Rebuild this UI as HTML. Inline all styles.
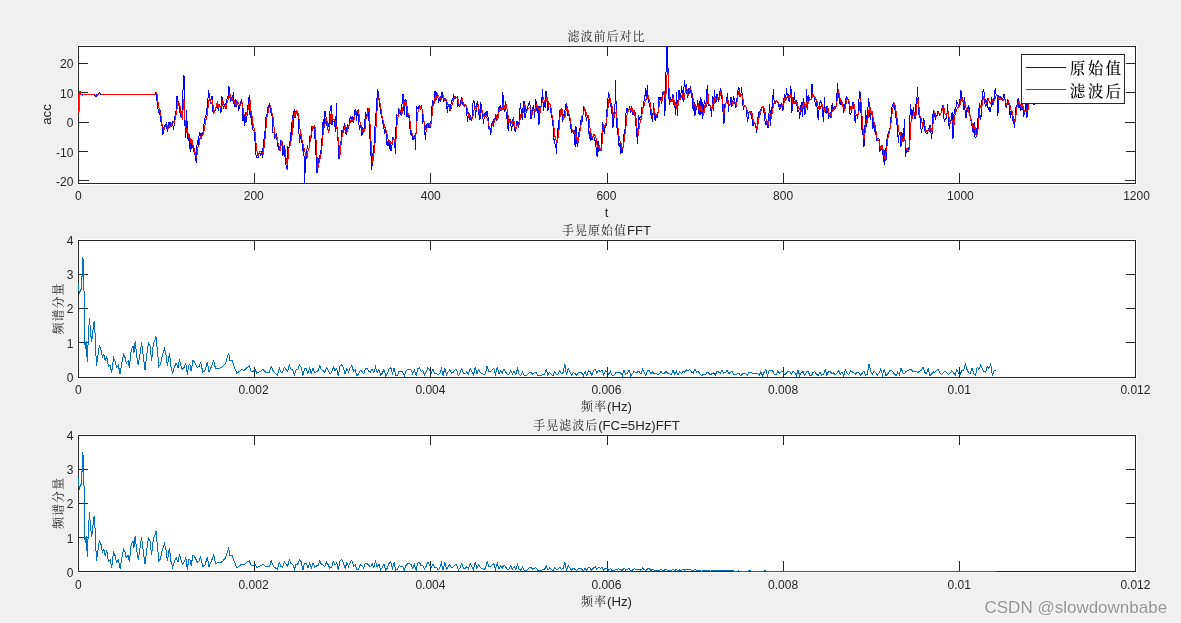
<!DOCTYPE html><html><head><meta charset="utf-8"><style>html,body{margin:0;padding:0;background:#f0f0f0;}svg{display:block}.tk{font-family:"Liberation Sans",Arial,sans-serif;font-size:12px;fill:#262626}.lb{font-family:"Liberation Sans","Noto Sans CJK SC",sans-serif;font-size:13.2px;fill:#262626}.tt{font-family:"Liberation Sans","Noto Sans CJK SC",sans-serif;font-size:13.2px;fill:#262626}.lg{font-family:"Liberation Serif","Noto Serif CJK SC",serif;font-size:15.5px;fill:#000;letter-spacing:2.4px;font-weight:500}.cj{font-family:"Liberation Serif","Noto Serif CJK SC",serif;font-size:12px;letter-spacing:1px}.wm{font-family:"Liberation Sans",Arial,sans-serif;font-size:17px;fill:#959595}</style></head><body>
<svg width="1181" height="623" viewBox="0 0 1181 623">
<rect x="0" y="0" width="1181" height="623" fill="#f0f0f0"/>
<rect x="77" y="45" width="1060" height="140" fill="#fff"/>
<rect x="77" y="239" width="1060" height="140" fill="#fff"/>
<rect x="77" y="434" width="1060" height="139" fill="#fff"/>
<g fill="#262626">
<rect x="78" y="46" width="1058" height="1"/>
<rect x="78" y="183" width="1058" height="1"/>
<rect x="78" y="46" width="1" height="138"/>
<rect x="1135" y="46" width="1" height="138"/>
<rect x="254" y="47" width="1" height="9"/>
<rect x="254" y="173" width="1" height="10"/>
<rect x="430" y="47" width="1" height="9"/>
<rect x="430" y="173" width="1" height="10"/>
<rect x="607" y="47" width="1" height="9"/>
<rect x="607" y="173" width="1" height="10"/>
<rect x="783" y="47" width="1" height="9"/>
<rect x="783" y="173" width="1" height="10"/>
<rect x="959" y="47" width="1" height="9"/>
<rect x="959" y="173" width="1" height="10"/>
<rect x="79" y="63" width="9" height="1"/>
<rect x="1126" y="63" width="9" height="1"/>
<rect x="79" y="92" width="9" height="1"/>
<rect x="1126" y="92" width="9" height="1"/>
<rect x="79" y="122" width="10" height="1"/>
<rect x="1125" y="122" width="10" height="1"/>
<rect x="79" y="151" width="9" height="1"/>
<rect x="1126" y="151" width="9" height="1"/>
<rect x="79" y="180" width="10" height="1"/>
<rect x="1125" y="180" width="10" height="1"/>
</g>
<g fill="#262626">
<rect x="78" y="240" width="1058" height="1"/>
<rect x="78" y="377" width="1058" height="1"/>
<rect x="78" y="240" width="1" height="138"/>
<rect x="1135" y="240" width="1" height="138"/>
<rect x="254" y="241" width="1" height="9"/>
<rect x="254" y="367" width="1" height="10"/>
<rect x="430" y="241" width="1" height="9"/>
<rect x="430" y="367" width="1" height="10"/>
<rect x="607" y="241" width="1" height="9"/>
<rect x="607" y="367" width="1" height="10"/>
<rect x="783" y="241" width="1" height="9"/>
<rect x="783" y="367" width="1" height="10"/>
<rect x="959" y="241" width="1" height="9"/>
<rect x="959" y="367" width="1" height="10"/>
<rect x="79" y="274" width="9" height="1"/>
<rect x="1126" y="274" width="9" height="1"/>
<rect x="79" y="308" width="9" height="1"/>
<rect x="1126" y="308" width="9" height="1"/>
<rect x="79" y="342" width="9" height="1"/>
<rect x="1126" y="342" width="9" height="1"/>
</g>
<g fill="#262626">
<rect x="78" y="435" width="1058" height="1"/>
<rect x="78" y="571" width="1058" height="1"/>
<rect x="78" y="435" width="1" height="137"/>
<rect x="1135" y="435" width="1" height="137"/>
<rect x="254" y="436" width="1" height="9"/>
<rect x="254" y="561" width="1" height="10"/>
<rect x="430" y="436" width="1" height="9"/>
<rect x="430" y="561" width="1" height="10"/>
<rect x="607" y="436" width="1" height="9"/>
<rect x="607" y="561" width="1" height="10"/>
<rect x="783" y="436" width="1" height="9"/>
<rect x="783" y="561" width="1" height="10"/>
<rect x="959" y="436" width="1" height="9"/>
<rect x="959" y="561" width="1" height="10"/>
<rect x="79" y="469" width="9" height="1"/>
<rect x="1126" y="469" width="9" height="1"/>
<rect x="79" y="503" width="9" height="1"/>
<rect x="1126" y="503" width="9" height="1"/>
<rect x="79" y="537" width="9" height="1"/>
<rect x="1126" y="537" width="9" height="1"/>
</g>
<polyline fill="none" stroke="#0000ff" stroke-width="1" shape-rendering="crispEdges" points="78.3,94.5 79.2,94.3 80.1,94.5 80.9,94.5 81.8,94.4 82.7,94.5 83.6,94.3 84.5,94.4 85.3,94.4 86.2,94.4 87.1,94.4 88.0,94.4 88.9,94.4 89.8,94.4 90.6,94.4 91.5,94.4 92.4,94.4 93.3,94.5 94.2,95.2 95.0,95.4 95.9,96.8 96.8,94.7 97.7,94.2 98.6,93.8 99.4,93.0 100.3,94.4 101.2,94.4 102.1,94.4 103.0,94.4 103.8,94.4 104.7,94.4 105.6,94.4 106.5,94.4 107.4,94.4 108.2,94.4 109.1,94.4 110.0,94.4 110.9,94.4 111.8,94.4 112.7,94.4 113.5,94.4 114.4,94.4 115.3,94.4 116.2,94.4 117.1,94.4 117.9,94.4 118.8,94.4 119.7,94.4 120.6,94.4 121.5,94.4 122.3,94.4 123.2,94.4 124.1,94.4 125.0,94.4 125.9,94.4 126.7,94.4 127.6,94.4 128.5,94.4 129.4,94.4 130.3,94.4 131.2,94.4 132.0,94.4 132.9,94.4 133.8,94.4 134.7,94.4 135.6,94.4 136.4,94.4 137.3,94.4 138.2,94.4 139.1,94.4 140.0,94.4 140.8,94.4 141.7,94.4 142.6,94.4 143.5,94.4 144.4,94.4 145.2,94.4 146.1,94.4 147.0,94.4 147.9,94.4 148.8,94.4 149.6,94.4 150.5,94.4 151.4,94.4 152.3,94.4 153.2,94.4 154.1,94.4 154.9,94.4 155.8,91.8 156.7,98.4 157.6,106.1 158.5,111.5 159.3,114.0 160.2,109.6 161.1,123.2 162.0,125.9 162.9,135.1 163.7,130.2 164.6,125.5 165.5,124.7 166.4,123.0 167.3,132.0 168.1,128.5 169.0,122.4 169.9,128.0 170.8,121.9 171.7,127.4 172.5,120.7 173.4,130.0 174.3,124.9 175.2,113.1 176.1,110.4 177.0,96.0 177.8,106.6 178.7,100.9 179.6,110.4 180.5,116.4 181.4,117.1 182.2,108.6 183.1,88.0 184.0,75.0 184.9,124.2 185.8,138.4 186.6,110.0 187.5,134.9 188.4,141.4 189.3,134.2 190.2,152.0 191.0,140.8 191.9,148.0 192.8,145.8 193.7,150.7 194.6,153.1 195.5,156.5 196.3,163.0 197.2,140.0 198.1,145.9 199.0,136.5 199.9,132.0 200.7,138.9 201.6,133.0 202.5,135.7 203.4,129.0 204.3,122.2 205.1,117.2 206.0,115.5 206.9,109.7 207.8,100.7 208.7,90.0 209.5,97.2 210.4,104.1 211.3,98.7 212.2,95.6 213.1,113.9 213.9,112.1 214.8,110.9 215.7,109.9 216.6,103.5 217.5,107.8 218.4,109.5 219.2,104.2 220.1,107.3 221.0,112.6 221.9,96.2 222.8,104.7 223.6,109.0 224.5,104.1 225.4,109.3 226.3,100.4 227.2,98.7 228.0,96.0 228.9,86.1 229.8,96.8 230.7,102.4 231.6,96.8 232.4,101.4 233.3,92.3 234.2,106.8 235.1,99.1 236.0,106.9 236.9,100.9 237.7,102.5 238.6,109.6 239.5,107.6 240.4,105.1 241.3,99.4 242.1,103.8 243.0,121.4 243.9,113.1 244.8,125.8 245.7,112.3 246.5,121.7 247.4,111.2 248.3,101.6 249.2,95.3 250.1,117.6 250.9,109.1 251.8,123.9 252.7,129.3 253.6,130.5 254.5,130.1 255.3,147.0 256.2,156.6 257.1,157.7 258.0,158.1 258.9,153.2 259.8,151.9 260.6,154.8 261.5,151.2 262.4,157.7 263.3,143.3 264.2,138.1 265.0,130.7 265.9,117.1 266.8,116.0 267.7,108.0 268.6,106.6 269.4,103.2 270.3,108.1 271.2,114.6 272.1,116.4 273.0,132.9 273.8,132.1 274.7,137.6 275.6,135.6 276.5,132.9 277.4,146.1 278.2,144.5 279.1,150.6 280.0,147.7 280.9,141.1 281.8,141.4 282.7,155.8 283.5,154.1 284.4,145.5 285.3,162.1 286.2,165.9 287.1,169.5 287.9,147.2 288.8,148.2 289.7,144.5 290.6,133.4 291.5,135.1 292.3,114.7 293.2,127.5 294.1,109.1 295.0,117.9 295.9,110.6 296.7,114.2 297.6,111.1 298.5,121.3 299.4,142.9 300.3,134.7 301.2,140.6 302.0,142.7 302.9,149.8 303.8,147.8 304.7,183.0 305.6,154.5 306.4,158.7 307.3,145.2 308.2,148.3 309.1,147.9 310.0,135.6 310.8,141.4 311.7,125.6 312.6,130.7 313.5,126.6 314.4,125.7 315.2,143.2 316.1,155.8 317.0,173.0 317.9,165.2 318.8,158.8 319.6,157.6 320.5,151.7 321.4,149.0 322.3,132.8 323.2,118.8 324.1,127.9 324.9,110.6 325.8,115.0 326.7,123.4 327.6,129.5 328.5,123.6 329.3,123.3 330.2,107.4 331.1,106.2 332.0,124.7 332.9,120.8 333.7,121.4 334.6,122.0 335.5,132.3 336.4,103.2 337.3,137.9 338.1,140.9 339.0,159.4 339.9,144.9 340.8,143.7 341.7,130.1 342.6,130.1 343.4,132.9 344.3,122.7 345.2,132.3 346.1,134.4 347.0,127.1 347.8,124.4 348.7,129.2 349.6,118.6 350.5,117.2 351.4,119.9 352.2,115.6 353.1,123.1 354.0,117.0 354.9,110.5 355.8,109.5 356.6,120.7 357.5,109.7 358.4,113.1 359.3,130.1 360.2,125.9 361.0,127.8 361.9,135.9 362.8,126.7 363.7,133.4 364.6,124.7 365.5,112.5 366.3,118.3 367.2,112.3 368.1,107.9 369.0,121.3 369.9,136.9 370.7,147.5 371.6,170.2 372.5,161.5 373.4,146.0 374.3,144.0 375.1,123.8 376.0,112.9 376.9,98.9 377.8,89.2 378.7,98.9 379.5,101.9 380.4,110.8 381.3,114.9 382.2,118.7 383.1,124.3 383.9,127.9 384.8,134.0 385.7,127.5 386.6,143.9 387.5,144.9 388.4,138.8 389.2,148.7 390.1,141.0 391.0,151.3 391.9,146.2 392.8,138.5 393.6,140.0 394.5,140.4 395.4,153.5 396.3,114.3 397.2,116.1 398.0,115.7 398.9,109.2 399.8,109.6 400.7,114.2 401.6,114.7 402.4,94.1 403.3,94.5 404.2,114.7 405.1,99.0 406.0,100.0 406.9,117.4 407.7,114.0 408.6,115.2 409.5,120.4 410.4,135.3 411.3,132.5 412.1,136.4 413.0,139.7 413.9,137.7 414.8,135.1 415.7,150.2 416.5,106.9 417.4,107.6 418.3,108.7 419.2,105.8 420.1,109.7 420.9,109.3 421.8,104.9 422.7,122.4 423.6,120.6 424.5,124.6 425.3,140.2 426.2,129.8 427.1,123.6 428.0,123.4 428.9,127.8 429.8,126.5 430.6,127.4 431.5,114.1 432.4,99.8 433.3,103.9 434.2,99.8 435.0,91.2 435.9,101.3 436.8,92.4 437.7,96.5 438.6,101.4 439.4,99.9 440.3,102.1 441.2,94.4 442.1,92.2 443.0,98.0 443.8,102.1 444.7,98.2 445.6,98.4 446.5,103.8 447.4,113.0 448.2,104.2 449.1,107.1 450.0,110.9 450.9,104.3 451.8,100.2 452.7,100.4 453.5,93.6 454.4,99.2 455.3,96.6 456.2,97.8 457.1,97.0 457.9,105.8 458.8,104.6 459.7,106.1 460.6,103.2 461.5,96.6 462.3,104.0 463.2,105.4 464.1,106.3 465.0,104.0 465.9,104.9 466.7,113.1 467.6,121.9 468.5,112.4 469.4,118.9 470.3,116.7 471.2,120.6 472.0,118.8 472.9,103.7 473.8,100.0 474.7,104.7 475.6,118.4 476.4,106.6 477.3,100.8 478.2,108.1 479.1,115.1 480.0,119.7 480.8,101.8 481.7,111.7 482.6,115.0 483.5,123.7 484.4,115.2 485.2,113.1 486.1,117.3 487.0,110.6 487.9,115.7 488.8,129.3 489.6,126.7 490.5,134.7 491.4,123.4 492.3,122.4 493.2,127.0 494.1,117.9 494.9,120.5 495.8,114.0 496.7,120.3 497.6,119.1 498.5,107.5 499.3,111.4 500.2,104.7 501.1,111.2 502.0,110.0 502.9,92.5 503.7,109.3 504.6,111.9 505.5,101.3 506.4,118.9 507.3,114.4 508.1,130.8 509.0,120.9 509.9,118.9 510.8,124.0 511.7,130.8 512.6,119.2 513.4,118.3 514.3,129.1 515.2,131.2 516.1,126.3 517.0,121.4 517.8,125.1 518.7,127.7 519.6,112.2 520.5,103.0 521.4,112.7 522.2,119.7 523.1,107.3 524.0,100.6 524.9,118.1 525.8,114.4 526.6,110.9 527.5,107.8 528.4,104.5 529.3,102.2 530.2,105.5 531.0,118.6 531.9,111.6 532.8,107.9 533.7,106.1 534.6,117.6 535.5,99.0 536.3,101.8 537.2,113.3 538.1,105.8 539.0,124.7 539.9,107.1 540.7,107.5 541.6,104.8 542.5,88.6 543.4,111.1 544.3,99.6 545.1,107.8 546.0,91.5 546.9,95.1 547.8,110.8 548.7,105.4 549.5,103.7 550.4,104.6 551.3,117.2 552.2,118.5 553.1,126.5 554.0,139.5 554.8,143.8 555.7,144.8 556.6,153.8 557.5,127.9 558.4,137.7 559.2,115.2 560.1,109.4 561.0,109.7 561.9,114.3 562.8,121.9 563.6,114.6 564.5,117.3 565.4,105.0 566.3,104.2 567.2,110.7 568.0,116.4 568.9,112.8 569.8,119.3 570.7,127.3 571.6,132.9 572.4,129.0 573.3,133.5 574.2,130.5 575.1,146.9 576.0,126.3 576.9,143.4 577.7,146.9 578.6,135.6 579.5,128.8 580.4,129.4 581.3,115.7 582.1,121.7 583.0,114.9 583.9,107.0 584.8,109.1 585.7,115.0 586.5,119.1 587.4,116.6 588.3,117.1 589.2,139.0 590.1,130.4 590.9,140.6 591.8,137.6 592.7,138.9 593.6,134.0 594.5,139.8 595.3,140.8 596.2,148.4 597.1,156.9 598.0,140.9 598.9,152.0 599.8,147.7 600.6,151.3 601.5,146.7 602.4,121.9 603.3,126.0 604.2,133.8 605.0,126.5 605.9,128.1 606.8,111.9 607.7,100.9 608.6,92.3 609.4,95.3 610.3,106.5 611.2,103.4 612.1,115.5 613.0,127.5 613.8,111.9 614.7,117.5 615.6,80.4 616.5,126.3 617.4,129.2 618.3,137.3 619.1,147.3 620.0,143.1 620.9,153.5 621.8,147.4 622.7,153.0 623.5,138.2 624.4,131.2 625.3,127.5 626.2,109.5 627.1,108.3 627.9,111.7 628.8,110.2 629.7,106.5 630.6,112.6 631.5,105.6 632.3,115.2 633.2,110.1 634.1,115.6 635.0,112.3 635.9,125.1 636.7,132.8 637.6,143.9 638.5,114.8 639.4,119.2 640.3,117.7 641.2,115.8 642.0,107.6 642.9,109.2 643.8,101.1 644.7,99.4 645.6,88.1 646.4,100.4 647.3,85.1 648.2,99.0 649.1,103.7 650.0,107.2 650.8,114.2 651.7,118.0 652.6,121.5 653.5,103.3 654.4,117.5 655.2,121.1 656.1,114.4 657.0,117.8 657.9,114.6 658.8,96.6 659.6,99.0 660.5,97.5 661.4,103.5 662.3,94.2 663.2,91.6 664.1,93.2 664.9,115.8 665.8,79.4 666.7,46.0 667.6,49.0 668.5,89.8 669.3,104.9 670.2,97.3 671.1,102.1 672.0,99.5 672.9,94.1 673.7,104.1 674.6,103.0 675.5,114.7 676.4,91.9 677.3,116.3 678.1,97.7 679.0,89.7 679.9,100.3 680.8,95.3 681.7,86.0 682.6,98.1 683.4,101.5 684.3,80.5 685.2,86.7 686.1,84.8 687.0,94.4 687.8,98.3 688.7,88.1 689.6,90.2 690.5,86.0 691.4,97.9 692.2,93.5 693.1,110.9 694.0,101.8 694.9,116.0 695.8,106.6 696.6,110.0 697.5,100.5 698.4,111.9 699.3,115.4 700.2,97.4 701.0,114.7 701.9,99.1 702.8,118.5 703.7,106.4 704.6,100.5 705.5,107.4 706.3,107.0 707.2,84.8 708.1,105.8 709.0,105.9 709.9,104.3 710.7,106.8 711.6,117.3 712.5,96.1 713.4,110.5 714.3,90.5 715.1,99.6 716.0,102.5 716.9,94.1 717.8,96.8 718.7,102.2 719.5,94.6 720.4,88.1 721.3,94.9 722.2,100.2 723.1,113.4 724.0,123.6 724.8,104.7 725.7,104.4 726.6,99.4 727.5,93.4 728.4,112.2 729.2,104.1 730.1,104.6 731.0,97.3 731.9,107.2 732.8,100.9 733.6,96.1 734.5,100.6 735.4,107.2 736.3,106.6 737.2,95.5 738.0,90.1 738.9,86.9 739.8,96.2 740.7,95.5 741.6,87.3 742.4,97.9 743.3,109.7 744.2,105.3 745.1,106.2 746.0,107.2 746.9,116.0 747.7,121.6 748.6,112.7 749.5,112.1 750.4,113.8 751.3,111.3 752.1,119.8 753.0,126.0 753.9,122.9 754.8,123.5 755.7,125.9 756.5,132.5 757.4,120.8 758.3,116.1 759.2,111.3 760.1,115.3 760.9,109.9 761.8,107.0 762.7,107.0 763.6,110.0 764.5,115.4 765.4,125.3 766.2,119.3 767.1,125.9 768.0,128.0 768.9,114.1 769.8,104.3 770.6,126.1 771.5,108.6 772.4,106.6 773.3,89.2 774.2,102.7 775.0,103.8 775.9,101.6 776.8,100.7 777.7,102.7 778.6,103.8 779.4,110.0 780.3,106.9 781.2,103.5 782.1,106.5 783.0,110.4 783.8,98.9 784.7,94.3 785.6,101.2 786.5,88.0 787.4,97.5 788.3,93.8 789.1,102.3 790.0,95.4 790.9,85.9 791.8,113.4 792.7,104.0 793.5,103.3 794.4,91.6 795.3,103.4 796.2,100.1 797.1,106.3 797.9,111.1 798.8,110.2 799.7,119.2 800.6,107.1 801.5,102.1 802.3,117.4 803.2,97.8 804.1,104.4 805.0,114.5 805.9,106.4 806.7,89.1 807.6,109.9 808.5,96.0 809.4,97.7 810.3,100.0 811.2,99.0 812.0,84.2 812.9,94.5 813.8,95.8 814.7,100.0 815.6,105.8 816.4,100.4 817.3,109.5 818.2,119.6 819.1,108.7 820.0,102.5 820.8,101.0 821.7,103.9 822.6,112.0 823.5,121.9 824.4,97.1 825.2,110.6 826.1,113.6 827.0,106.0 827.9,111.7 828.8,118.8 829.7,113.0 830.5,118.4 831.4,107.1 832.3,104.8 833.2,110.9 834.1,106.7 834.9,108.7 835.8,108.4 836.7,97.7 837.6,83.3 838.5,96.5 839.3,98.1 840.2,105.1 841.1,100.2 842.0,104.9 842.9,102.0 843.7,112.5 844.6,107.1 845.5,100.3 846.4,96.8 847.3,99.2 848.1,99.6 849.0,103.5 849.9,114.1 850.8,114.9 851.7,107.9 852.6,102.6 853.4,102.6 854.3,112.5 855.2,122.8 856.1,114.6 857.0,115.8 857.8,118.6 858.7,103.2 859.6,91.2 860.5,93.7 861.4,128.2 862.2,130.0 863.1,136.0 864.0,146.9 864.9,127.3 865.8,110.0 866.6,127.1 867.5,119.0 868.4,98.5 869.3,103.7 870.2,120.1 871.0,110.6 871.9,113.0 872.8,129.4 873.7,122.2 874.6,131.9 875.5,125.4 876.3,140.9 877.2,140.5 878.1,138.7 879.0,138.6 879.9,151.8 880.7,147.7 881.6,145.3 882.5,154.4 883.4,154.0 884.3,165.4 885.1,148.4 886.0,161.0 886.9,139.6 887.8,134.5 888.7,132.5 889.5,130.2 890.4,126.7 891.3,111.8 892.2,105.9 893.1,103.5 894.0,102.6 894.8,108.5 895.7,115.4 896.6,122.0 897.5,127.8 898.4,143.3 899.2,132.6 900.1,133.7 901.0,146.6 901.9,131.8 902.8,140.4 903.6,134.9 904.5,119.0 905.4,157.3 906.3,150.4 907.2,152.1 908.0,151.5 908.9,151.0 909.8,118.4 910.7,104.3 911.6,118.6 912.4,115.8 913.3,107.5 914.2,115.3 915.1,119.3 916.0,104.0 916.9,99.1 917.7,87.0 918.6,114.9 919.5,114.8 920.4,121.0 921.3,132.6 922.1,128.7 923.0,125.0 923.9,118.1 924.8,130.4 925.7,132.2 926.5,133.6 927.4,133.3 928.3,129.1 929.2,130.7 930.1,124.8 930.9,132.6 931.8,139.1 932.7,116.4 933.6,109.7 934.5,112.8 935.4,119.6 936.2,115.2 937.1,115.5 938.0,110.8 938.9,113.3 939.8,115.8 940.6,113.8 941.5,111.4 942.4,105.7 943.3,106.8 944.2,121.6 945.0,118.7 945.9,119.2 946.8,116.1 947.7,103.6 948.6,123.0 949.4,129.1 950.3,120.4 951.2,120.7 952.1,112.2 953.0,139.0 953.8,115.0 954.7,110.6 955.6,113.4 956.5,100.0 957.4,103.4 958.3,104.5 959.1,106.9 960.0,98.8 960.9,90.1 961.8,101.3 962.7,97.0 963.5,109.5 964.4,97.2 965.3,115.9 966.2,118.3 967.1,107.4 967.9,112.1 968.8,105.2 969.7,113.8 970.6,119.3 971.5,123.4 972.3,128.0 973.2,132.5 974.1,121.6 975.0,136.7 975.9,138.1 976.8,131.5 977.6,120.1 978.5,115.4 979.4,103.3 980.3,120.0 981.2,115.7 982.0,100.4 982.9,91.5 983.8,88.7 984.7,103.1 985.6,105.9 986.4,104.9 987.3,98.5 988.2,109.8 989.1,107.2 990.0,112.0 990.8,109.9 991.7,97.5 992.6,105.2 993.5,98.4 994.4,98.8 995.2,88.0 996.1,94.5 997.0,95.5 997.9,116.0 998.8,95.4 999.7,99.9 1000.5,96.7 1001.4,97.8 1002.3,99.4 1003.2,97.2 1004.1,94.0 1004.9,99.5 1005.8,106.5 1006.7,107.1 1007.6,99.1 1008.5,104.6 1009.3,104.0 1010.2,118.0 1011.1,110.3 1012.0,114.6 1012.9,120.3 1013.7,122.3 1014.6,128.0 1015.5,109.5 1016.4,105.9 1017.3,106.1 1018.1,98.0 1019.0,107.5 1019.9,103.4 1020.8,111.1 1021.7,104.8 1022.6,104.1 1023.4,116.0 1024.3,114.4 1025.2,111.8 1026.1,102.6 1027.0,118.0 1027.8,101.8 1028.7,100.8 1029.6,96.7 1030.5,90.9 1031.4,84.4 1032.2,88.4 1033.1,90.7 1034.0,104.9 1034.9,93.5 1035.8,88.5 1036.6,92.4 1037.5,95.7"/>
<polyline fill="none" stroke="#ff0000" stroke-width="1" shape-rendering="crispEdges" points="78.3,113.5 79.2,94.5 80.1,91.0 80.9,94.2 81.8,94.8 82.7,95.5 83.6,94.6 84.5,94.5 85.3,94.4 86.2,94.4 87.1,94.4 88.0,94.4 88.9,94.4 89.8,94.4 90.6,94.4 91.5,94.4 92.4,94.4 93.3,94.4 94.2,94.5 95.0,95.2 95.9,95.7 96.8,95.9 97.7,94.7 98.6,94.3 99.4,93.7 100.3,93.6 101.2,94.4 102.1,94.4 103.0,94.4 103.8,94.4 104.7,94.4 105.6,94.4 106.5,94.4 107.4,94.4 108.2,94.4 109.1,94.4 110.0,94.4 110.9,94.4 111.8,94.4 112.7,94.4 113.5,94.4 114.4,94.4 115.3,94.4 116.2,94.4 117.1,94.4 117.9,94.4 118.8,94.4 119.7,94.4 120.6,94.4 121.5,94.4 122.3,94.4 123.2,94.4 124.1,94.4 125.0,94.4 125.9,94.4 126.7,94.4 127.6,94.4 128.5,94.4 129.4,94.4 130.3,94.4 131.2,94.4 132.0,94.4 132.9,94.4 133.8,94.4 134.7,94.4 135.6,94.4 136.4,94.4 137.3,94.4 138.2,94.4 139.1,94.4 140.0,94.4 140.8,94.4 141.7,94.4 142.6,94.4 143.5,94.4 144.4,94.4 145.2,94.4 146.1,94.4 147.0,94.4 147.9,94.4 148.8,94.4 149.6,94.4 150.5,94.4 151.4,94.4 152.3,94.4 153.2,94.4 154.1,94.4 154.9,94.4 155.8,94.4 156.7,91.7 157.6,98.6 158.5,105.3 159.3,110.0 160.2,112.9 161.1,116.3 162.0,124.5 162.9,127.1 163.7,130.1 164.6,128.1 165.5,126.0 166.4,125.2 167.3,125.6 168.1,129.0 169.0,126.9 169.9,125.7 170.8,126.7 171.7,123.9 172.5,124.6 173.4,121.4 174.3,122.4 175.2,119.4 176.1,114.0 177.0,108.9 177.8,101.7 178.7,104.7 179.6,103.5 180.5,109.9 181.4,116.0 182.2,117.8 183.1,109.1 184.0,99.4 184.9,119.5 185.8,127.0 186.6,131.3 187.5,128.7 188.4,135.5 189.3,138.8 190.2,138.8 191.0,142.6 191.9,139.6 192.8,144.4 193.7,146.7 194.6,151.1 195.5,154.2 196.3,157.2 197.2,154.8 198.1,146.5 199.0,145.0 199.9,138.3 200.7,136.5 201.6,137.8 202.5,134.8 203.4,134.4 204.3,129.6 205.1,124.0 206.0,119.6 206.9,116.5 207.8,110.0 208.7,101.6 209.5,98.0 210.4,100.4 211.3,103.0 212.2,101.3 213.1,105.6 213.9,113.0 214.8,110.9 215.7,108.4 216.6,104.4 217.5,102.6 218.4,105.8 219.2,106.9 220.1,106.4 221.0,107.6 221.9,106.2 222.8,99.6 223.6,104.3 224.5,106.2 225.4,105.8 226.3,107.5 227.2,102.2 228.0,100.0 228.9,96.7 229.8,93.3 230.7,97.5 231.6,99.9 232.4,98.7 233.3,100.6 234.2,100.4 235.1,104.5 236.0,103.2 236.9,105.2 237.7,102.1 238.6,102.7 239.5,105.1 240.4,105.1 241.3,103.7 242.1,102.5 243.0,107.7 243.9,114.5 244.8,114.7 245.7,116.5 246.5,112.8 247.4,113.1 248.3,108.6 249.2,102.3 250.1,100.9 250.9,111.7 251.8,113.4 252.7,123.0 253.6,127.3 254.5,129.1 255.3,134.1 256.2,145.7 257.1,151.8 258.0,155.6 258.9,154.4 259.8,151.7 260.6,151.7 261.5,152.8 262.4,152.7 263.3,154.9 264.2,145.7 265.0,139.2 265.9,129.6 266.8,118.1 267.7,114.8 268.6,109.0 269.4,107.1 270.3,105.9 271.2,108.8 272.1,113.4 273.0,117.0 273.8,126.0 274.7,132.3 275.6,137.5 276.5,136.7 277.4,137.8 278.2,144.1 279.1,146.0 280.0,151.3 280.9,146.2 281.8,141.0 282.7,143.5 283.5,149.5 284.4,149.5 285.3,149.9 286.2,160.2 287.1,164.5 287.9,160.2 288.8,148.5 289.7,147.5 290.6,143.7 291.5,138.3 292.3,132.8 293.2,115.8 294.1,116.6 295.0,112.3 295.9,114.8 296.7,111.7 297.6,113.6 298.5,113.9 299.4,122.5 300.3,131.9 301.2,135.2 302.0,139.7 302.9,143.1 303.8,147.4 304.7,149.7 305.6,155.9 306.4,154.8 307.3,156.4 308.2,149.6 309.1,147.8 310.0,142.1 310.8,136.0 311.7,133.1 312.6,126.6 313.5,126.5 314.4,125.7 315.2,127.1 316.1,141.5 317.0,156.5 317.9,168.6 318.8,163.8 319.6,160.7 320.5,157.0 321.4,151.0 322.3,144.3 323.2,132.8 324.1,125.1 324.9,125.0 325.8,118.6 326.7,118.8 327.6,125.9 328.5,132.9 329.3,129.4 330.2,122.6 331.1,112.7 332.0,114.3 332.9,119.6 333.7,119.2 334.6,120.3 335.5,122.7 336.4,128.5 337.3,129.3 338.1,137.7 339.0,145.1 339.9,155.7 340.8,146.0 341.7,140.1 342.6,131.6 343.4,130.5 344.3,128.3 345.2,126.1 346.1,132.2 347.0,132.4 347.8,127.5 348.7,125.4 349.6,125.6 350.5,120.4 351.4,120.0 352.2,120.6 353.1,118.9 354.0,120.5 354.9,115.9 355.8,112.0 356.6,111.9 357.5,112.6 358.4,110.5 359.3,115.7 360.2,123.4 361.0,124.6 361.9,128.3 362.8,131.6 363.7,129.4 364.6,132.3 365.5,124.1 366.3,116.7 367.2,116.3 368.1,110.6 369.0,108.0 369.9,121.7 370.7,135.7 371.6,149.7 372.5,163.0 373.4,160.2 374.3,149.4 375.1,142.6 376.0,127.1 376.9,113.4 377.8,98.1 378.7,97.4 379.5,100.3 380.4,104.4 381.3,111.4 382.2,116.9 383.1,120.2 383.9,123.9 384.8,127.2 385.7,130.0 386.6,130.1 387.5,138.0 388.4,140.3 389.2,140.2 390.1,143.5 391.0,142.2 391.9,143.7 392.8,141.0 393.6,138.2 394.5,140.0 395.4,143.0 396.3,137.0 397.2,121.7 398.0,117.3 398.9,114.9 399.8,110.2 400.7,111.3 401.6,114.3 402.4,112.6 403.3,103.7 404.2,100.9 405.1,106.0 406.0,101.3 406.9,105.1 407.7,113.6 408.6,113.3 409.5,116.7 410.4,124.0 411.3,132.8 412.1,132.9 413.0,135.8 413.9,137.7 414.8,137.6 415.7,137.0 416.5,129.7 417.4,114.8 418.3,110.8 419.2,108.8 420.1,106.3 420.9,108.7 421.8,108.5 422.7,111.3 423.6,120.1 424.5,122.3 425.3,126.3 426.2,131.2 427.1,127.9 428.0,123.9 428.9,123.2 429.8,125.2 430.6,125.3 431.5,121.5 432.4,111.8 433.3,103.1 434.2,103.1 435.0,98.6 435.9,95.4 436.8,98.1 437.7,94.2 438.6,96.0 439.4,98.3 440.3,98.6 441.2,98.9 442.1,95.3 443.0,95.3 443.8,98.7 444.7,100.2 445.6,98.6 446.5,100.0 447.4,103.8 448.2,105.8 449.1,104.6 450.0,110.3 450.9,109.9 451.8,105.3 452.7,102.4 453.5,100.4 454.4,96.7 455.3,98.8 456.2,97.8 457.1,98.1 457.9,98.9 458.8,103.8 459.7,105.1 460.6,105.3 461.5,101.8 462.3,98.5 463.2,103.0 464.1,104.8 465.0,105.4 465.9,104.6 466.7,106.2 467.6,112.4 468.5,116.2 469.4,114.5 470.3,117.6 471.2,117.9 472.0,119.2 472.9,116.9 473.8,110.6 474.7,107.3 475.6,107.0 476.4,110.1 477.3,105.8 478.2,104.7 479.1,109.7 480.0,114.7 480.8,114.6 481.7,109.2 482.6,112.5 483.5,115.4 484.4,117.6 485.2,115.1 486.1,115.4 487.0,118.2 487.9,120.2 488.8,124.8 489.6,128.6 490.5,129.3 491.4,131.2 492.3,124.3 493.2,122.4 494.1,123.0 494.9,119.3 495.8,119.5 496.7,117.0 497.6,119.3 498.5,116.0 499.3,110.2 500.2,110.0 501.1,107.4 502.0,109.5 502.9,107.1 503.7,103.6 504.6,108.3 505.5,107.4 506.4,103.7 507.3,111.9 508.1,115.6 509.0,122.7 509.9,120.2 510.8,120.6 511.7,123.4 512.6,123.5 513.4,119.3 514.3,121.6 515.2,128.2 516.1,128.8 517.0,125.9 517.8,124.3 518.7,125.4 519.6,123.5 520.5,115.2 521.4,113.5 522.2,114.5 523.1,113.2 524.0,105.6 524.9,104.3 525.8,111.4 526.6,111.7 527.5,110.0 528.4,108.6 529.3,107.5 530.2,107.9 531.0,110.3 531.9,115.1 532.8,111.5 533.7,109.4 534.6,109.9 535.5,112.3 536.3,104.6 537.2,105.4 538.1,109.3 539.0,108.4 539.9,113.4 540.7,107.4 541.6,105.3 542.5,101.0 543.4,96.8 544.3,101.4 545.1,100.3 546.0,101.9 546.9,96.6 547.8,99.7 548.7,105.7 549.5,104.3 550.4,105.0 551.3,109.4 552.2,116.4 553.1,120.3 554.0,128.1 554.8,135.9 555.7,138.7 556.6,141.6 557.5,142.3 558.4,133.1 559.2,128.5 560.1,115.8 561.0,109.4 561.9,108.5 562.8,115.0 563.6,119.7 564.5,116.5 565.4,116.2 566.3,109.3 567.2,107.0 568.0,109.6 568.9,114.1 569.8,116.3 570.7,121.7 571.6,127.2 572.4,130.2 573.3,130.2 574.2,133.0 575.1,134.5 576.0,139.4 576.9,136.1 577.7,142.6 578.6,139.8 579.5,134.1 580.4,128.7 581.3,123.4 582.1,115.3 583.0,115.2 583.9,111.8 584.8,108.2 585.7,110.5 586.5,114.3 587.4,116.5 588.3,115.8 589.2,119.5 590.1,128.8 590.9,132.3 591.8,137.0 592.7,136.5 593.6,136.5 594.5,134.4 595.3,135.4 596.2,139.1 597.1,145.8 598.0,148.3 598.9,144.9 599.8,149.5 600.6,148.9 601.5,151.0 602.4,139.3 603.3,124.3 604.2,125.9 605.0,126.3 605.9,123.5 606.8,118.9 607.7,111.3 608.6,102.4 609.4,95.2 610.3,99.2 611.2,104.8 612.1,106.4 613.0,114.1 613.8,117.5 614.7,113.5 615.6,113.1 616.5,111.3 617.4,123.6 618.3,130.0 619.1,136.3 620.0,140.7 620.9,142.8 621.8,147.3 622.7,148.6 623.5,146.2 624.4,137.9 625.3,131.9 626.2,125.1 627.1,114.1 627.9,111.6 628.8,111.0 629.7,108.3 630.6,108.3 631.5,111.0 632.3,109.2 633.2,112.1 634.1,110.4 635.0,114.6 635.9,117.4 636.7,125.6 637.6,132.5 638.5,134.4 639.4,124.5 640.3,122.1 641.2,118.9 642.0,113.9 642.9,107.7 643.8,106.8 644.7,102.8 645.6,100.2 646.4,97.3 647.3,98.1 648.2,95.5 649.1,99.4 650.0,102.3 650.8,107.3 651.7,114.8 652.6,116.4 653.5,113.4 654.4,108.4 655.2,115.1 656.1,115.6 657.0,114.0 657.9,113.7 658.8,109.3 659.6,101.4 660.5,100.8 661.4,100.7 662.3,100.4 663.2,93.4 664.1,91.3 664.9,96.8 665.8,98.8 666.7,78.5 667.6,67.8 668.5,80.1 669.3,92.9 670.2,100.5 671.1,100.8 672.0,101.9 672.9,98.8 673.7,97.8 674.6,103.4 675.5,106.3 676.4,107.7 677.3,102.2 678.1,105.5 679.0,98.8 679.9,97.3 680.8,99.3 681.7,95.6 682.6,94.2 683.4,98.5 684.3,99.1 685.2,91.0 686.1,87.1 687.0,89.1 687.8,95.7 688.7,96.0 689.6,90.6 690.5,89.3 691.4,90.7 692.2,96.4 693.1,97.8 694.0,104.5 694.9,103.8 695.8,107.6 696.6,106.2 697.5,106.6 698.4,104.6 699.3,110.9 700.2,110.2 701.0,105.8 701.9,110.7 702.8,109.1 703.7,115.5 704.6,107.3 705.5,103.4 706.3,104.7 707.2,100.9 708.1,94.4 709.0,103.6 709.9,106.1 710.7,107.0 711.6,108.3 712.5,108.0 713.4,101.1 714.3,102.6 715.1,96.1 716.0,99.9 716.9,100.0 717.8,96.4 718.7,98.4 719.5,99.4 720.4,94.2 721.3,90.0 722.2,96.4 723.1,105.0 724.0,112.9 724.8,109.4 725.7,103.1 726.6,102.2 727.5,99.7 728.4,100.5 729.2,106.3 730.1,103.9 731.0,103.1 731.9,101.3 732.8,104.8 733.6,101.7 734.5,101.2 735.4,102.9 736.3,104.7 737.2,101.6 738.0,95.5 738.9,91.8 739.8,92.1 740.7,95.7 741.6,94.9 742.4,95.3 743.3,100.8 744.2,106.4 745.1,105.5 746.0,107.1 746.9,109.2 747.7,113.8 748.6,113.8 749.5,111.5 750.4,111.6 751.3,112.7 752.1,113.5 753.0,119.2 753.9,122.6 754.8,122.4 755.7,124.6 756.5,129.3 757.4,129.5 758.3,121.4 759.2,116.5 760.1,112.4 760.9,111.4 761.8,108.4 762.7,106.4 763.6,107.3 764.5,110.0 765.4,114.4 766.2,119.8 767.1,121.7 768.0,124.6 768.9,121.6 769.8,114.6 770.6,114.3 771.5,118.5 772.4,110.6 773.3,106.8 774.2,102.0 775.0,103.2 775.9,101.9 776.8,100.7 777.7,101.3 778.6,103.1 779.4,105.2 780.3,108.7 781.2,106.7 782.1,104.8 783.0,105.8 783.8,104.9 784.7,99.0 785.6,97.7 786.5,99.3 787.4,95.9 788.3,97.1 789.1,95.8 790.0,98.3 790.9,94.8 791.8,95.2 792.7,103.9 793.5,103.9 794.4,103.2 795.3,100.7 796.2,102.5 797.1,102.1 797.9,105.7 798.8,108.1 799.7,109.5 800.6,112.2 801.5,106.9 802.3,105.7 803.2,108.0 804.1,102.5 805.0,106.3 805.9,108.2 806.7,103.6 807.6,100.2 808.5,104.2 809.4,98.5 810.3,99.3 811.2,99.9 812.0,97.8 812.9,94.4 813.8,95.8 814.7,96.8 815.6,98.9 816.4,100.3 817.3,101.1 818.2,107.1 819.1,109.6 820.0,108.5 820.8,107.0 821.7,104.6 822.6,104.9 823.5,109.7 824.4,110.8 825.2,106.9 826.1,110.2 827.0,109.1 827.9,107.2 828.8,111.9 829.7,115.3 830.5,114.2 831.4,116.3 832.3,110.7 833.2,109.3 834.1,110.1 834.9,107.7 835.8,107.9 836.7,104.1 837.6,95.4 838.5,89.4 839.3,95.7 840.2,98.2 841.1,102.1 842.0,102.5 842.9,106.2 843.7,106.9 844.6,111.2 845.5,106.8 846.4,101.3 847.3,98.0 848.1,99.8 849.0,101.3 849.9,105.1 850.8,109.8 851.7,109.8 852.6,106.7 853.4,104.0 854.3,104.6 855.2,110.9 856.1,114.5 857.0,114.4 857.8,115.2 858.7,114.6 859.6,104.8 860.5,98.0 861.4,105.6 862.2,118.4 863.1,130.0 864.0,138.6 864.9,134.6 865.8,124.9 866.6,119.1 867.5,121.6 868.4,115.4 869.3,107.0 870.2,107.3 871.0,113.1 871.9,111.0 872.8,115.1 873.7,121.6 874.6,122.8 875.5,129.1 876.3,132.2 877.2,139.5 878.1,140.1 879.0,140.7 879.9,145.2 880.7,149.2 881.6,145.4 882.5,145.9 883.4,152.3 884.3,155.9 885.1,159.5 886.0,152.2 886.9,147.0 887.8,139.3 888.7,135.3 889.5,132.0 890.4,127.4 891.3,120.4 892.2,112.1 893.1,107.2 894.0,104.4 894.8,104.6 895.7,108.6 896.6,114.5 897.5,121.6 898.4,128.4 899.2,133.1 900.1,132.4 901.0,136.2 901.9,141.8 902.8,139.1 903.6,141.9 904.5,135.6 905.4,144.0 906.3,149.8 907.2,148.3 908.0,150.6 908.9,150.4 909.8,144.7 910.7,125.7 911.6,115.0 912.4,117.6 913.3,115.0 914.2,112.8 915.1,116.6 916.0,115.3 916.9,104.9 917.7,99.3 918.6,101.2 919.5,114.4 920.4,116.7 921.3,118.9 922.1,122.9 923.0,126.8 923.9,125.1 924.8,125.3 925.7,130.0 926.5,131.2 927.4,131.8 928.3,131.0 929.2,129.2 930.1,128.6 930.9,127.5 931.8,132.3 932.7,127.7 933.6,116.9 934.5,111.2 935.4,113.8 936.2,116.4 937.1,114.7 938.0,114.3 938.9,112.8 939.8,113.8 940.6,114.2 941.5,112.3 942.4,109.3 943.3,105.8 944.2,108.5 945.0,114.0 945.9,114.5 946.8,114.3 947.7,112.0 948.6,111.8 949.4,121.1 950.3,123.0 951.2,120.5 952.1,120.6 953.0,121.3 953.8,127.3 954.7,116.6 955.6,110.8 956.5,111.2 957.4,107.9 958.3,107.1 959.1,106.5 960.0,104.6 960.9,99.7 961.8,97.8 962.7,100.3 963.5,100.8 964.4,105.2 965.3,102.4 966.2,109.7 967.1,110.3 967.9,109.1 968.8,112.5 969.7,114.0 970.6,117.7 971.5,121.6 972.3,124.5 973.2,127.5 974.1,128.6 975.0,126.6 975.9,134.4 976.8,135.6 977.6,132.9 978.5,123.7 979.4,114.5 980.3,105.4 981.2,108.0 982.0,105.6 982.9,100.1 983.8,96.7 984.7,97.5 985.6,102.2 986.4,103.2 987.3,101.5 988.2,99.1 989.1,101.5 990.0,102.4 990.8,103.2 991.7,102.8 992.6,100.2 993.5,103.1 994.4,99.8 995.2,98.7 996.1,95.3 997.0,95.7 997.9,96.3 998.8,99.6 999.7,97.1 1000.5,99.3 1001.4,98.6 1002.3,99.9 1003.2,100.3 1004.1,99.1 1004.9,99.1 1005.8,102.0 1006.7,105.4 1007.6,104.5 1008.5,101.6 1009.3,104.2 1010.2,106.0 1011.1,110.4 1012.0,110.8 1012.9,115.5 1013.7,119.3 1014.6,121.2 1015.5,121.3 1016.4,110.8 1017.3,105.7 1018.1,103.1 1019.0,101.0 1019.9,104.7 1020.8,104.6 1021.7,107.6 1022.6,105.2 1023.4,106.9 1024.3,111.9 1025.2,111.9 1026.1,110.7 1027.0,109.5 1027.8,112.0 1028.7,104.6 1029.6,102.2 1030.5,98.2 1031.4,93.8 1032.2,91.0 1033.1,90.1 1034.0,93.0 1034.9,96.8 1035.8,93.4 1036.6,91.6 1037.5,93.3"/>
<rect x="78" y="94" width="1" height="19.5" fill="#ff0000"/><rect x="79" y="94" width="1" height="17.6" fill="#ff2020"/>
<polyline fill="none" stroke="#0072bd" stroke-width="1" shape-rendering="crispEdges" points="78.4,283.2 79.3,294.3 80.6,290.0 81.3,289.0 81.5,276.0 82.2,276.0 82.5,257.0 82.9,258.0 83.3,262.0 83.7,262.0 84.3,317.6 85.1,348.6 86.2,340.9 87.3,362.0 88.4,335.3 89.5,317.6 90.6,333.1 91.7,342.0 92.9,330.9 94.2,320.9 95.3,337.6 96.4,366.4 98.0,355.3 99.3,346.0 100.8,348.6 102.4,357.5 103.9,354.2 105.1,360.8 106.8,356.4 108.4,366.4 110.2,365.3 111.7,373.0 113.5,357.5 115.0,360.8 116.6,367.5 118.4,365.3 120.1,374.1 121.7,364.2 123.5,354.2 125.0,357.5 126.3,363.1 128.1,360.8 129.4,367.5 131.2,349.8 133.0,346.4 133.9,353.1 135.2,340.9 136.8,356.4 138.3,365.3 140.1,353.1 141.6,342.4 143.4,357.5 145.0,369.7 146.7,355.3 148.5,343.1 150.1,346.4 151.6,360.8 153.4,343.1 154.9,340.9 156.0,336.5 157.4,350.9 158.9,366.4 160.5,364.2 162.3,355.3 164.5,348.6 166.0,355.3 167.4,366.4 169.4,353.1 171.1,367.5 172.7,373.0 174.5,366.4 176.2,363.1 178.0,367.6 179.5,359.4 180.8,365.1 182.4,369.5 184.0,367.6 185.8,363.2 187.4,375.1 188.6,365.1 189.9,364.5 191.1,371.3 193.0,360.3 194.9,362.6 197.4,367.6 199.3,366.3 200.5,362.0 202.8,372.0 204.9,370.7 207.4,362.2 209.0,372.3 211.5,366.3 213.7,360.5 215.5,368.8 218.0,368.2 219.9,368.2 222.4,367.0 225.6,363.2 227.4,356.9 228.7,353.2 229.9,360.7 232.1,360.7 234.3,367.0 236.8,373.2 239.3,371.3 241.8,369.5 244.3,370.3 246.8,367.6 249.3,366.1 251.2,371.1 253.1,371.3 255.0,369.5 256.8,373.2 259.4,372.0 263.1,369.5 265.6,372.3 269.4,372.3 271.2,366.3 273.7,372.0 277.5,375.1 279.2,367.8 280.9,371.8 282.6,372.6 284.3,367.3 286.0,369.6 287.6,371.5 289.3,365.0 291.0,369.0 292.7,369.7 294.4,375.1 296.1,369.4 297.8,369.4 299.5,365.0 301.2,367.4 302.9,375.7 304.5,368.6 306.2,368.6 307.9,373.3 309.6,368.4 311.3,373.3 313.0,368.1 314.7,372.6 316.4,371.6 318.1,370.6 319.8,366.0 321.4,369.8 323.1,370.5 324.8,372.2 326.5,367.7 328.2,370.2 329.9,373.7 331.6,372.6 333.3,367.0 335.0,370.4 336.7,368.5 338.3,375.7 340.0,366.2 341.7,364.9 343.4,367.8 345.1,374.0 346.8,368.3 348.5,371.9 350.2,367.7 351.9,365.6 353.6,371.5 355.2,370.1 356.9,375.3 358.6,374.4 360.3,370.3 362.0,371.4 363.7,373.7 365.4,368.8 367.1,368.4 368.8,371.1 370.5,372.1 372.1,369.2 373.8,372.6 375.5,367.1 377.2,372.4 378.9,369.4 380.6,375.2 382.3,373.0 384.0,369.6 385.7,375.7 387.4,373.7 389.0,368.8 390.7,367.3 392.4,373.8 394.1,367.9 395.8,375.7 397.5,375.1 399.2,371.0 400.9,371.8 402.6,371.9 404.3,375.7 405.9,371.1 407.6,369.3 409.3,369.3 411.0,369.8 412.7,374.1 414.4,370.1 416.1,375.7 417.8,368.5 419.5,367.8 421.2,371.4 422.8,370.5 424.5,374.7 426.2,371.7 427.9,367.5 429.6,370.3 431.3,372.9 433.0,369.1 434.7,373.3 436.4,373.1 438.1,374.9 439.7,373.7 441.4,368.5 443.1,375.7 444.8,368.0 446.5,374.7 448.2,372.0 449.9,369.8 451.6,373.2 453.3,372.2 455.0,370.1 456.6,369.7 458.3,375.7 460.0,373.3 461.7,368.5 463.4,373.3 465.1,373.9 466.8,371.8 468.5,374.0 470.2,368.2 471.9,372.1 473.5,375.0 475.2,366.8 476.9,373.8 478.6,369.9 480.3,372.6 482.0,373.6 483.7,374.5 485.4,374.0 487.1,366.0 488.8,371.2 490.4,371.7 492.1,369.7 493.8,368.3 495.5,374.4 497.2,367.3 498.9,373.6 500.6,370.8 502.3,372.9 504.0,369.2 505.7,372.0 507.3,374.8 509.0,374.0 510.7,370.5 512.4,374.2 514.1,371.3 515.8,374.7 517.5,368.9 519.2,374.3 520.9,375.5 522.6,371.6 524.3,375.7 525.9,375.7 527.6,374.5 529.3,372.7 531.0,372.4 532.7,374.3 534.4,372.7 536.1,372.5 537.8,375.5 539.5,375.7 541.2,375.2 542.8,374.7 544.5,374.7 546.2,369.9 547.9,375.1 549.6,372.4 551.3,374.4 553.0,375.7 554.7,371.8 556.4,374.4 558.1,374.0 559.7,371.0 561.4,373.8 563.1,372.7 564.8,364.0 566.5,374.6 568.2,368.6 569.9,372.0 571.6,375.5 573.3,372.1 575.0,373.7 576.6,375.2 578.3,372.6 580.0,372.4 581.7,373.1 583.4,375.7 585.1,371.7 586.8,375.7 588.5,370.3 590.2,371.8 591.9,375.4 593.5,370.8 595.2,369.1 596.9,373.3 598.6,370.3 600.3,371.5 602.0,370.2 603.7,375.1 605.4,370.9 607.1,371.8 608.8,374.4 610.4,371.1 612.1,375.5 613.8,375.7 615.5,373.0 617.2,372.8 618.9,372.0 620.6,372.9 622.3,375.7 624.0,370.0 625.7,374.4 627.3,373.2 629.0,370.0 630.7,375.7 632.4,373.8 634.1,371.3 635.8,372.6 637.5,372.0 639.2,371.6 640.9,374.1 642.6,369.4 644.2,372.4 645.9,375.5 647.6,370.7 649.3,370.9 651.0,374.3 652.7,371.5 654.4,374.0 656.1,373.6 657.8,374.7 659.5,373.8 661.1,371.3 662.8,373.9 664.5,373.0 666.2,371.3 667.9,373.7 669.6,373.5 671.3,374.7 673.0,370.1 674.7,374.1 676.4,371.1 678.0,375.2 679.7,371.7 681.4,373.7 683.1,370.9 684.8,372.3 686.5,369.9 688.2,370.6 689.9,369.6 691.6,372.2 693.3,373.1 694.9,369.0 696.6,372.1 698.3,371.2 700.0,374.2 701.7,375.7 703.4,374.3 705.1,375.0 706.8,372.8 708.5,372.9 710.2,375.1 711.8,373.8 713.5,372.4 715.2,375.7 716.9,371.0 718.6,372.0 720.3,373.1 722.0,369.8 723.7,373.0 725.4,372.7 727.1,370.5 728.7,373.6 730.4,372.3 732.1,371.3 733.8,374.8 735.5,374.6 737.2,373.9 738.9,372.9 740.6,375.7 742.3,374.2 744.0,373.1 745.6,373.6 747.3,375.3 749.0,372.3 750.7,372.3 752.4,373.2 754.1,373.0 755.8,373.4 757.5,373.7 759.2,375.1 760.9,371.6 762.5,375.7 764.2,372.0 765.9,369.8 767.6,375.7 769.3,370.4 771.0,370.1 772.7,370.9 774.4,374.6 776.1,375.0 777.8,370.6 779.4,373.2 781.1,371.9 782.8,371.9 784.5,374.7 786.2,373.5 787.9,371.2 789.6,371.3 791.3,374.6 793.0,371.4 794.7,372.7 796.3,375.6 798.0,370.4 799.7,375.7 801.4,372.4 803.1,371.8 804.8,375.7 806.5,372.0 808.2,371.6 809.9,375.7 811.6,375.4 813.2,372.1 814.9,371.8 816.6,374.2 818.3,375.7 820.0,372.3 821.7,375.0 823.4,374.7 825.1,369.4 826.8,374.8 828.5,371.6 830.1,370.9 831.8,373.9 833.5,373.0 835.2,375.1 836.9,373.2 838.6,370.8 840.3,374.0 842.0,371.7 843.7,375.7 845.4,369.9 847.0,372.7 848.7,374.7 850.4,370.8 852.1,371.8 853.8,372.6 855.5,374.1 857.2,372.3 858.9,373.0 860.6,375.1 862.3,373.1 863.9,370.9 865.6,375.3 867.3,374.2 869.0,364.5 870.7,371.1 872.4,374.2 874.1,371.4 875.8,372.9 877.5,375.1 879.2,372.6 880.8,368.9 882.5,374.9 884.2,369.4 885.9,375.6 887.6,374.2 889.3,371.1 891.0,370.0 892.7,371.9 894.4,373.9 896.1,375.6 897.7,372.2 899.4,374.7 901.1,367.9 902.8,372.9 904.5,373.4 906.2,371.3 907.9,370.8 909.6,369.7 911.3,369.5 913.0,371.7 914.6,371.9 916.3,371.5 918.0,372.3 919.7,371.1 921.4,370.1 923.1,367.3 924.8,372.5 926.5,373.7 928.2,368.7 929.9,375.5 931.5,374.0 933.2,371.9 934.9,372.4 936.6,370.5 938.3,369.4 940.0,372.7 941.7,374.6 943.4,372.4 945.1,371.4 946.8,372.7 948.4,374.8 950.1,373.2 951.8,370.6 953.5,372.9 955.2,375.2 956.9,369.4 958.6,374.0 960.3,374.1 962.0,370.6 963.7,370.5 965.3,364.0 967.0,369.6 968.7,373.0 970.4,373.1 972.1,368.2 973.8,374.0 975.5,375.7 977.2,367.1 978.9,369.7 980.6,365.0 982.2,368.3 983.9,371.3 985.6,372.4 987.3,366.5 989.0,368.3 990.7,364.2 992.4,375.3 994.1,370.7 995.7,370.5"/>
<polyline fill="none" stroke="#0072bd" stroke-width="1" shape-rendering="crispEdges" points="78.4,478.4 79.3,489.4 80.6,485.1 81.3,484.1 81.5,471.2 82.2,471.2 82.5,452.4 82.9,453.4 83.3,457.3 83.7,457.3 84.3,512.5 85.1,543.3 86.2,535.7 87.3,556.6 88.4,530.1 89.5,512.5 90.6,527.9 91.7,536.8 92.9,525.7 94.2,515.8 95.3,532.4 96.4,561.0 98.0,550.0 99.3,540.7 100.8,543.3 102.4,552.1 103.9,548.9 105.1,555.4 106.8,551.1 108.4,561.0 110.2,559.9 111.7,567.5 113.5,552.1 115.0,555.4 116.6,562.1 118.4,559.9 120.1,568.6 121.7,558.8 123.5,548.9 125.0,552.1 126.3,557.7 128.1,555.4 129.4,562.1 131.2,544.5 133.0,541.1 133.9,547.8 135.2,535.7 136.8,551.1 138.3,559.9 140.1,547.8 141.6,537.2 143.4,552.1 145.0,564.3 146.7,550.0 148.5,537.8 150.1,541.1 151.6,555.4 153.4,537.8 154.9,535.7 156.0,531.3 157.4,545.6 158.9,561.0 160.5,558.8 162.3,550.0 164.5,543.3 166.0,550.0 167.4,561.0 169.4,547.8 171.1,562.1 172.7,567.5 174.5,561.0 176.2,557.7 178.0,562.2 179.5,554.0 180.8,559.7 182.4,564.1 184.0,562.2 185.8,557.8 187.4,569.6 188.6,559.7 189.9,559.1 191.1,565.8 193.0,554.9 194.9,557.2 197.4,562.2 199.3,560.9 200.5,556.6 202.8,566.5 204.9,565.2 207.4,556.8 209.0,566.8 211.5,560.9 213.7,555.1 215.5,563.4 218.0,562.8 219.9,562.8 222.4,561.6 225.6,557.8 227.4,551.5 228.7,547.9 229.9,555.3 232.1,555.3 234.3,561.6 236.8,567.7 239.3,565.8 241.8,564.1 244.3,564.8 246.8,562.2 249.3,560.7 251.2,565.6 253.1,565.8 255.0,564.1 256.8,567.7 259.4,566.5 263.1,564.1 265.6,566.8 269.4,566.8 271.2,560.9 273.7,566.5 277.5,569.6 279.2,562.4 280.9,566.3 282.6,567.2 284.3,561.9 286.0,564.2 287.6,566.0 289.3,559.6 291.0,563.6 292.7,564.2 294.4,569.6 296.1,564.0 297.8,564.0 299.5,559.6 301.2,561.9 302.9,570.2 304.5,563.2 306.2,563.2 307.9,567.8 309.6,563.0 311.3,567.8 313.0,562.7 314.7,567.2 316.4,566.1 318.1,565.2 319.8,560.6 321.4,564.4 323.1,565.1 324.8,566.7 326.5,562.3 328.2,564.8 329.9,568.2 331.6,567.1 333.3,561.6 335.0,565.0 336.7,563.0 338.3,570.2 340.0,560.8 341.7,559.5 343.4,562.4 345.1,568.6 346.8,562.8 348.5,566.4 350.2,562.2 351.9,560.2 353.6,566.0 355.2,564.6 356.9,569.8 358.6,568.9 360.3,564.9 362.0,566.0 363.7,568.2 365.4,563.3 367.1,563.0 368.8,565.6 370.5,566.6 372.1,563.8 373.8,567.2 375.5,561.7 377.2,567.0 378.9,564.0 380.6,569.8 382.3,567.5 384.0,564.2 385.7,570.2 387.4,568.2 389.0,563.4 390.7,561.9 392.4,568.3 394.1,562.5 395.8,570.2 397.5,569.6 399.2,565.5 400.9,566.4 402.6,566.4 404.3,570.2 405.9,565.7 407.6,563.9 409.3,563.9 411.0,564.3 412.7,568.6 414.4,564.7 416.1,570.2 417.8,563.0 419.5,562.4 421.2,565.9 422.8,565.1 424.5,569.2 426.2,566.2 427.9,562.1 429.6,564.9 431.3,567.4 433.0,563.7 434.7,567.8 436.4,567.6 438.1,569.4 439.7,568.3 441.4,563.1 443.1,570.2 444.8,562.6 446.5,569.2 448.2,566.6 449.9,564.5 451.6,567.8 453.3,566.8 455.0,564.9 456.6,564.5 458.3,570.3 460.0,567.9 461.7,563.5 463.4,568.0 465.1,568.6 466.8,566.6 468.5,568.7 470.2,563.3 471.9,567.0 473.5,569.6 475.2,562.0 476.9,568.6 478.6,565.0 480.3,567.5 482.0,568.4 483.7,569.2 485.4,568.8 487.1,561.6 488.8,566.3 490.4,566.8 492.1,565.0 493.8,563.8 495.5,569.2 497.2,562.9 498.9,568.6 500.6,566.1 502.3,568.0 504.0,564.7 505.7,567.2 507.3,569.6 509.0,569.0 510.7,566.0 512.4,569.1 514.1,566.7 515.8,569.6 517.5,564.7 519.2,569.3 520.9,570.3 522.6,567.1 524.3,570.4 525.9,570.4 527.6,569.5 529.3,568.0 531.0,567.7 532.7,569.3 534.4,568.1 536.1,567.9 537.8,570.3 539.5,570.5 541.2,570.1 542.8,569.7 544.5,569.7 546.2,566.0 547.9,570.0 549.6,568.0 551.3,569.5 553.0,570.5 554.7,567.6 556.4,569.6 558.1,569.2 559.7,567.1 561.4,569.2 563.1,568.4 564.8,562.1 566.5,569.8 568.2,565.6 569.9,568.0 571.6,570.4 573.3,568.1 575.0,569.3 576.6,570.3 578.3,568.6 580.0,568.5 581.7,569.0 583.4,570.7 585.1,568.1 586.8,570.7 588.5,567.3 590.2,568.3 591.9,570.5 593.5,567.7 595.2,566.8 596.9,569.3 598.6,567.6 600.3,568.3 602.0,567.6 603.7,570.5 605.4,568.1 607.1,568.6 608.8,570.1 610.4,568.3 612.1,570.7 613.8,570.8 615.5,569.4 617.2,569.3 618.9,568.9 620.6,569.4 622.3,570.8 624.0,568.0 625.7,570.2 627.3,569.6 629.0,568.1 630.7,570.9 632.4,570.0 634.1,568.8 635.8,569.5 637.5,569.2 639.2,569.0 640.9,570.2 642.6,568.1 644.2,569.5 645.9,570.8 647.6,568.8 649.3,568.9 651.0,570.4 652.7,569.3 654.4,570.3 656.1,570.2 657.8,570.6 659.5,570.2 661.1,569.3 662.8,570.3 664.5,570.0 666.2,569.4 667.9,570.3 669.6,570.2 671.3,570.7 673.0,569.1 674.7,570.5 676.4,569.5 678.0,570.9 679.7,569.8 681.4,570.4 683.1,569.6 684.8,570.1 686.5,569.4 688.2,569.6 689.9,569.4 691.6,570.1 693.3,570.4 694.9,569.3 696.6,570.2 698.3,570.0 700.0,570.8 701.7,571.2 703.4,570.8 705.1,571.0 706.8,570.5 708.5,570.6 710.2,571.1 711.8,570.8 713.5,570.5 715.2,571.2 716.9,570.2 718.6,570.5 720.3,570.7 722.0,570.1 723.7,570.7 725.4,570.7 727.1,570.3 728.7,570.9 730.4,570.7 732.1,570.6 733.8,571.1 735.5,571.1 737.2,571.1 738.9,570.9 740.6,571.3 742.3,571.1 744.0,571.0 745.6,571.1 747.3,571.3 749.0,570.9 750.7,571.0 752.4,571.1 754.1,571.1 755.8,571.1 757.5,571.2 759.2,571.3 760.9,571.0 762.5,571.4 764.2,571.0 765.9,570.9 767.6,571.4 769.3,571.0 771.0,571.0 772.7,571.0 774.4,571.3 776.1,571.3 777.8,571.0 779.4,571.2 781.1,571.1 782.8,571.1 784.5,571.3 786.2,571.3 787.9,571.1 789.6,571.1 791.3,571.3 793.0,571.1 794.7,571.2 796.3,571.4 798.0,571.1 799.7,571.4 801.4,571.2 803.1,571.2 804.8,571.4 806.5,571.2 808.2,571.2 809.9,571.4 811.6,571.4 813.2,571.3 814.9,571.2 816.6,571.4 818.3,571.4 820.0,571.3 821.7,571.4 823.4,571.4 825.1,571.3 826.8,571.5 828.5,571.4 830.1,571.4 831.8,571.5 833.5,571.5 835.2,571.5 836.9,571.5 838.6,571.5 840.3,571.5 842.0,571.5 843.7,571.5 845.4,571.5 847.0,571.5 848.7,571.5 850.4,571.5 852.1,571.5 853.8,571.5 855.5,571.5 857.2,571.5 858.9,571.5 860.6,571.5 862.3,571.5 863.9,571.5 865.6,571.5 867.3,571.5 869.0,571.5 870.7,571.5 872.4,571.5 874.1,571.5 875.8,571.5 877.5,571.5 879.2,571.5 880.8,571.5 882.5,571.5 884.2,571.5 885.9,571.5 887.6,571.5 889.3,571.5 891.0,571.5 892.7,571.5 894.4,571.5 896.1,571.5 897.7,571.5 899.4,571.5 901.1,571.5 902.8,571.5 904.5,571.5 906.2,571.5 907.9,571.5 909.6,571.5 911.3,571.5 913.0,571.5 914.6,571.5 916.3,571.5 918.0,571.5 919.7,571.5 921.4,571.5 923.1,571.5 924.8,571.5 926.5,571.5 928.2,571.5 929.9,571.5 931.5,571.5 933.2,571.5 934.9,571.5 936.6,571.5 938.3,571.5 940.0,571.5 941.7,571.5 943.4,571.5 945.1,571.5 946.8,571.5 948.4,571.5 950.1,571.5 951.8,571.5 953.5,571.5 955.2,571.5 956.9,571.5 958.6,571.5 960.3,571.5 962.0,571.5 963.7,571.5 965.3,571.5 967.0,571.5 968.7,571.5 970.4,571.5 972.1,571.5 973.8,571.5 975.5,571.5 977.2,571.5 978.9,571.5 980.6,571.5 982.2,571.5 983.9,571.5 985.6,571.5 987.3,571.5 989.0,571.5 990.7,571.5 992.4,571.5 994.1,571.5 995.7,571.5"/>
<text class="tk" x="78.40" y="200" text-anchor="middle">0</text>
<text class="tk" x="253.77" y="200" text-anchor="middle">200</text>
<text class="tk" x="430.73" y="200" text-anchor="middle">400</text>
<text class="tk" x="606.40" y="200" text-anchor="middle">600</text>
<text class="tk" x="783.07" y="200" text-anchor="middle">800</text>
<text class="tk" x="960.43" y="200" text-anchor="middle">1000</text>
<text class="tk" x="1136.50" y="200" text-anchor="middle">1200</text>
<text class="tk" x="73.4" y="68" text-anchor="end">20</text>
<text class="tk" x="73.4" y="98.2" text-anchor="end">10</text>
<text class="tk" x="73.4" y="126.8" text-anchor="end">0</text>
<text class="tk" x="73.4" y="157" text-anchor="end">-10</text>
<text class="tk" x="73.4" y="186" text-anchor="end">-20</text>
<text class="tk" x="78.40" y="394" text-anchor="middle">0</text>
<text class="tk" x="253.57" y="394" text-anchor="middle">0.002</text>
<text class="tk" x="430.43" y="394" text-anchor="middle">0.004</text>
<text class="tk" x="606.40" y="394" text-anchor="middle">0.006</text>
<text class="tk" x="783.07" y="394" text-anchor="middle">0.008</text>
<text class="tk" x="959.23" y="394" text-anchor="middle">0.01</text>
<text class="tk" x="1135.40" y="394" text-anchor="middle">0.012</text>
<text class="tk" x="73.4" y="244.8" text-anchor="end">4</text>
<text class="tk" x="73.4" y="278.8" text-anchor="end">3</text>
<text class="tk" x="73.4" y="312.8" text-anchor="end">2</text>
<text class="tk" x="73.4" y="347.8" text-anchor="end">1</text>
<text class="tk" x="73.4" y="381.8" text-anchor="end">0</text>
<text class="tk" x="78.40" y="589" text-anchor="middle">0</text>
<text class="tk" x="253.57" y="589" text-anchor="middle">0.002</text>
<text class="tk" x="430.43" y="589" text-anchor="middle">0.004</text>
<text class="tk" x="606.40" y="589" text-anchor="middle">0.006</text>
<text class="tk" x="783.07" y="589" text-anchor="middle">0.008</text>
<text class="tk" x="959.23" y="589" text-anchor="middle">0.01</text>
<text class="tk" x="1135.40" y="589" text-anchor="middle">0.012</text>
<text class="tk" x="73.4" y="439.8" text-anchor="end">4</text>
<text class="tk" x="73.4" y="474.2" text-anchor="end">3</text>
<text class="tk" x="73.4" y="508.4" text-anchor="end">2</text>
<text class="tk" x="73.4" y="542.8" text-anchor="end">1</text>
<text class="tk" x="73.4" y="576.8" text-anchor="end">0</text>
<text class="lb" x="606.5" y="217" text-anchor="middle">t</text>
<text class="lb" x="606.5" y="411" text-anchor="middle"><tspan class="cj">频率</tspan><tspan>(Hz)</tspan></text>
<text class="lb" x="606.5" y="606" text-anchor="middle"><tspan class="cj">频率</tspan><tspan>(Hz)</tspan></text>
<text class="lb" transform="translate(51.3,114.5) rotate(-90)" text-anchor="middle">acc</text>
<text class="lb" transform="translate(62.5,308.5) rotate(-90)" text-anchor="middle"><tspan class="cj">频谱分量</tspan></text>
<text class="lb" transform="translate(62.5,503) rotate(-90)" text-anchor="middle"><tspan class="cj">频谱分量</tspan></text>
<text class="tt" x="606.5" y="41" text-anchor="middle"><tspan class="cj">滤波前后对比</tspan></text>
<text class="tt" x="606.5" y="235" text-anchor="middle"><tspan class="cj">手晃原始值</tspan><tspan>FFT</tspan></text>
<text class="tt" x="606.5" y="430" text-anchor="middle"><tspan class="cj">手晃滤波后</tspan><tspan>(FC=5Hz)FFT</tspan></text>
<rect x="1021" y="54" width="104" height="50" fill="#fff"/>
<g fill="#262626"><rect x="1021" y="54" width="104" height="1"/><rect x="1021" y="103" width="104" height="1"/><rect x="1021" y="54" width="1" height="50"/><rect x="1124" y="54" width="1" height="50"/></g>
<rect x="1026" y="67" width="40" height="1" fill="#0000ff"/>
<rect x="1026" y="89" width="40" height="1" fill="#ff0000"/>
<text class="lg" x="1069.8" y="73.8">原始值</text>
<text class="lg" x="1069.8" y="96.8">滤波后</text>
<text class="wm" x="984.5" y="613" style="paint-order:stroke" stroke="#ffffff" stroke-opacity="0.5" stroke-width="1">CSDN @slowdownbabe</text>
</svg></body></html>
